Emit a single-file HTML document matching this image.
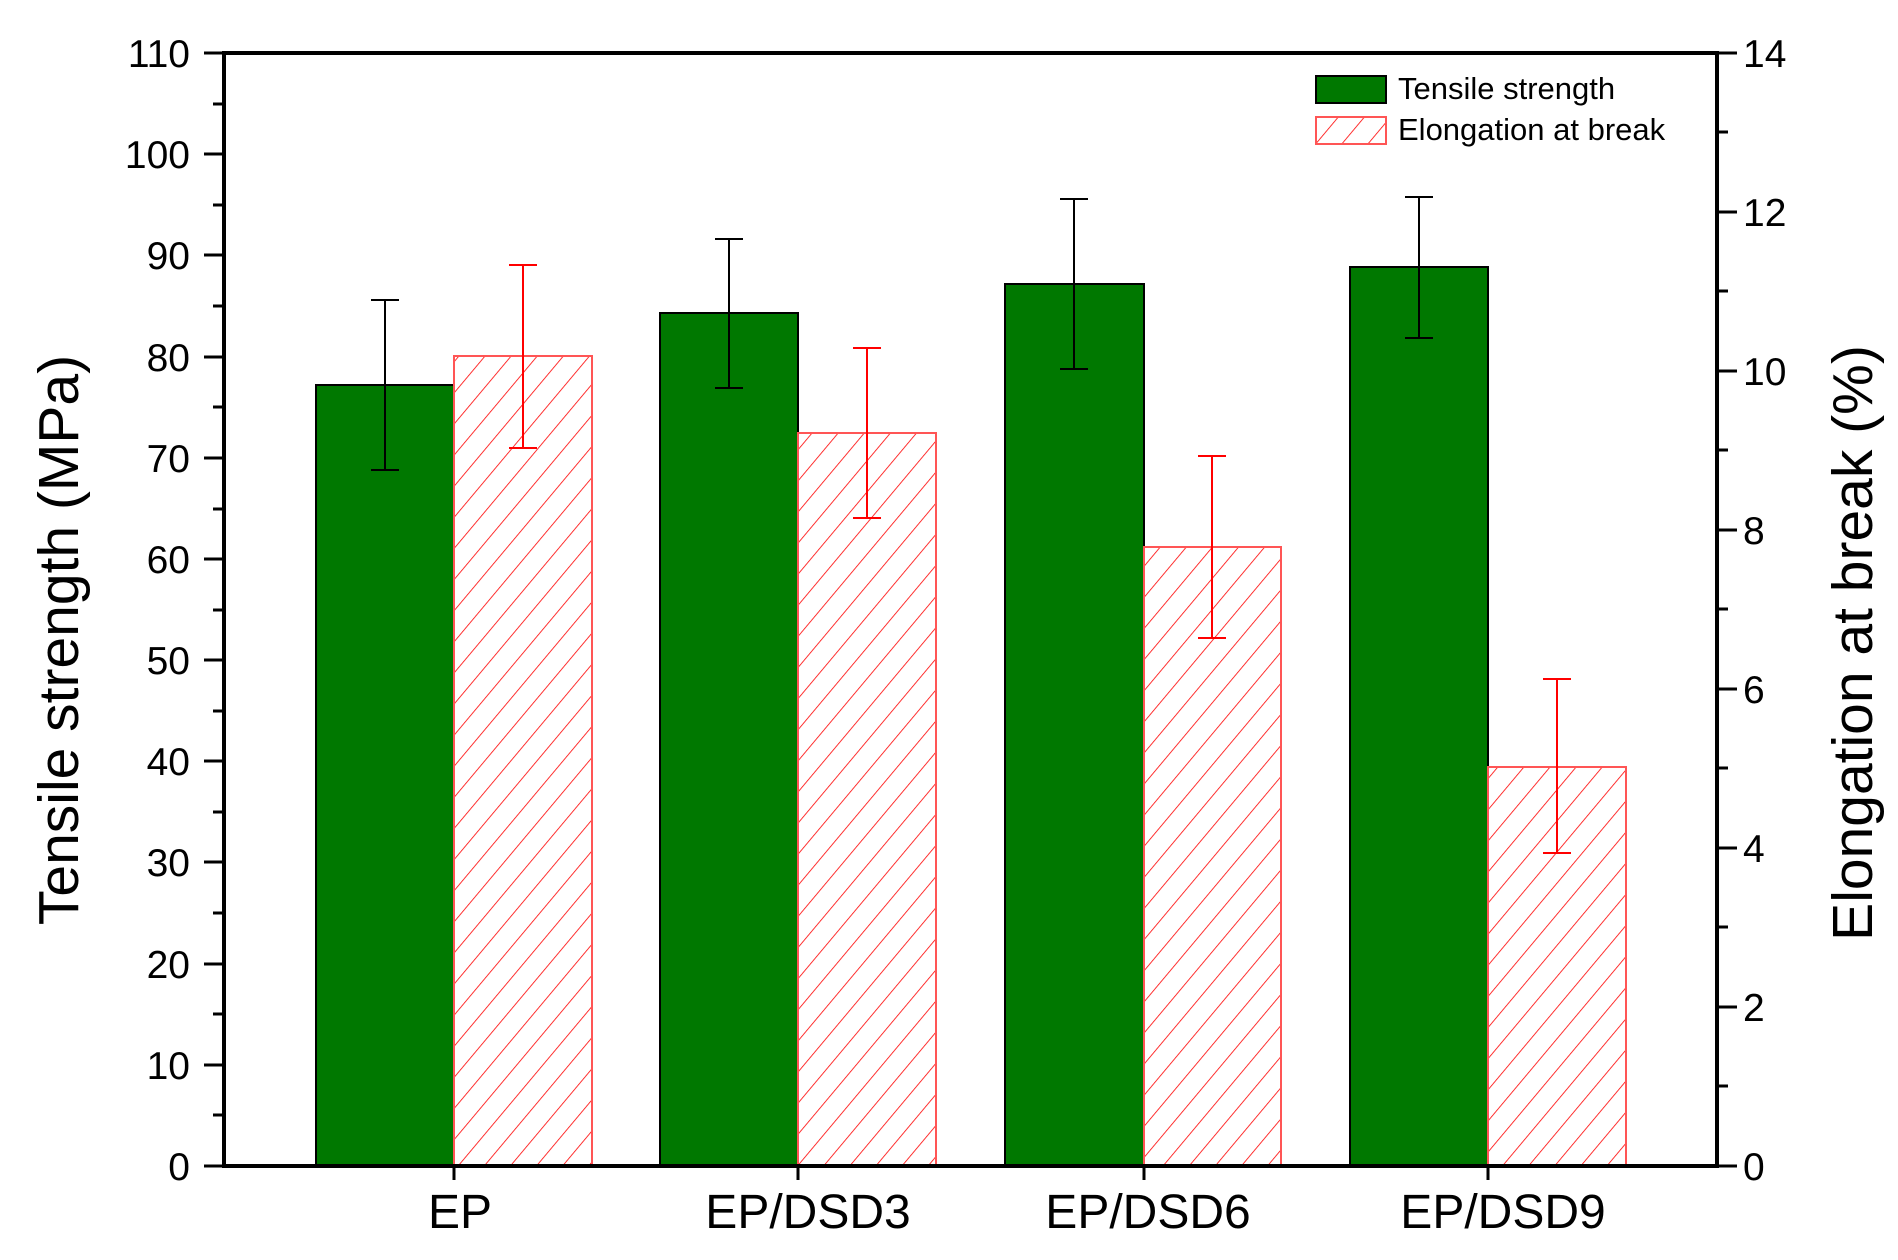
<!DOCTYPE html>
<html><head><meta charset="utf-8"><style>body{margin:0;background:#fff}</style></head><body>
<svg width="1898" height="1255" xmlns="http://www.w3.org/2000/svg" font-family="Liberation Sans, Arial, sans-serif">
<defs>
<pattern id="h" patternUnits="userSpaceOnUse" width="20" height="20" patternTransform="rotate(40)">
<line x1="0" y1="0" x2="0" y2="20" stroke="#f00" stroke-width="1.6"/>
</pattern>
</defs>
<g stroke-width="2">
<rect x="316" y="385" width="138" height="781" fill="#007800" stroke="#000"/>
<rect x="454" y="356" width="138" height="810" fill="url(#h)" stroke="#f55"/>
<rect x="660" y="313" width="138" height="853" fill="#007800" stroke="#000"/>
<rect x="798" y="433" width="138" height="733" fill="url(#h)" stroke="#f55"/>
<rect x="1005" y="284" width="139" height="882" fill="#007800" stroke="#000"/>
<rect x="1144" y="547" width="137" height="619" fill="url(#h)" stroke="#f55"/>
<rect x="1350" y="267" width="138" height="899" fill="#007800" stroke="#000"/>
<rect x="1488" y="767" width="138" height="399" fill="url(#h)" stroke="#f55"/>
</g>
<g stroke="#000" stroke-width="2" fill="none">
<path d="M385 300V470M371 300H399M371 470H399"/>
<path d="M729 239V388M715 239H743M715 388H743"/>
<path d="M1074 199V369M1060 199H1088M1060 369H1088"/>
<path d="M1419 197V338M1405 197H1433M1405 338H1433"/>
</g>
<g stroke="#f00" stroke-width="2" fill="none">
<path d="M523 265V448M509 265H537M509 448H537"/>
<path d="M867 348V518M853 348H881M853 518H881"/>
<path d="M1212 456V638M1198 456H1226M1198 638H1226"/>
<path d="M1557 679V853M1543 679H1571M1543 853H1571"/>
</g>
<g stroke="#000" stroke-width="4" fill="none">
<rect x="224" y="53" width="1493" height="1113"/>
</g>
<g stroke="#000" stroke-width="3">
<path d="M224 53h-20M224 154h-20M224 255h-20M224 357h-20M224 458h-20M224 559h-20M224 660h-20M224 761h-20M224 862h-20M224 964h-20M224 1065h-20M224 1166h-20"/>
<path d="M224 104h-11M224 205h-11M224 306h-11M224 407h-11M224 509h-11M224 610h-11M224 711h-11M224 812h-11M224 913h-11M224 1014h-11M224 1115h-11"/>
<path d="M1717 53h20M1717 212h20M1717 371h20M1717 530h20M1717 689h20M1717 848h20M1717 1007h20M1717 1166h20"/>
<path d="M1717 132h11M1717 291h11M1717 450h11M1717 609h11M1717 768h11M1717 927h11M1717 1086h11"/>
<path d="M454 1166v14M798 1166v14M1144 1166v14M1488 1166v14"/>
</g>
<g font-size="39" text-anchor="end" fill="#000">
<text x="190" y="67">110</text><text x="190" y="168">100</text><text x="190" y="269">90</text><text x="190" y="371">80</text><text x="190" y="472">70</text><text x="190" y="573">60</text><text x="190" y="674">50</text><text x="190" y="775">40</text><text x="190" y="876">30</text><text x="190" y="978">20</text><text x="190" y="1079">10</text><text x="190" y="1180">0</text>
</g>
<g font-size="39" text-anchor="start" fill="#000">
<text x="1743" y="67">14</text><text x="1743" y="226">12</text><text x="1743" y="385">10</text><text x="1743" y="544">8</text><text x="1743" y="703">6</text><text x="1743" y="862">4</text><text x="1743" y="1021">2</text><text x="1743" y="1180">0</text>
</g>
<g font-size="48" text-anchor="middle" fill="#000">
<text x="460" y="1228">EP</text><text x="808" y="1228">EP/DSD3</text><text x="1148" y="1228">EP/DSD6</text><text x="1503" y="1228">EP/DSD9</text>
</g>
<text transform="translate(78 640) rotate(-90)" font-size="57" text-anchor="middle">Tensile strength (MPa)</text>
<text transform="translate(1872 643) rotate(-90)" font-size="57" text-anchor="middle">Elongation at break (%)</text>
<rect x="1316" y="76" width="70" height="27" fill="#007800" stroke="#000" stroke-width="2"/>
<rect x="1316" y="117" width="70" height="27" fill="url(#h)" stroke="#f55" stroke-width="2"/>
<text x="1398" y="99" font-size="31">Tensile strength</text>
<text x="1398" y="140" font-size="31">Elongation at break</text>
</svg>
</body></html>
